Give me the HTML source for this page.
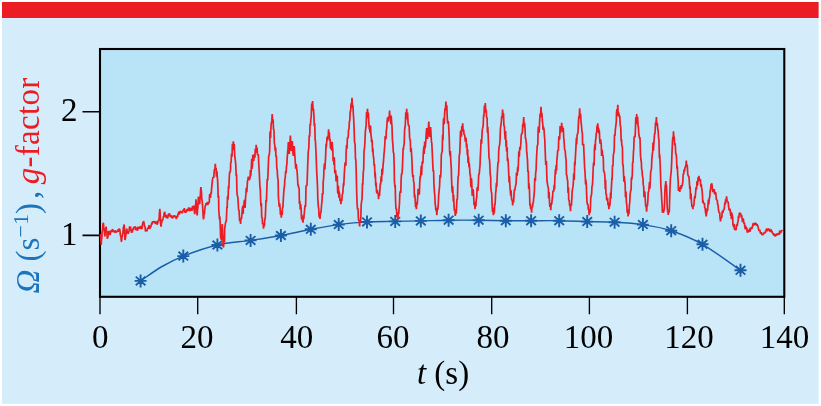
<!DOCTYPE html>
<html lang="en">
<head>
<meta charset="utf-8">
<title>g-factor and angular velocity vs time</title>
<style>
html,body{margin:0;padding:0;background:#fff;}
body{width:821px;height:406px;overflow:hidden;}
svg{display:block;}
text{font-family:"Liberation Serif",serif;font-size:33px;fill:#000;}
.i{font-style:italic;}
</style>
</head>
<body>
<svg width="821" height="406" viewBox="0 0 821 406">
<rect x="2" y="2" width="816.6" height="401.8" fill="#d5edfb"/>
<rect x="2" y="2" width="816.6" height="16" fill="#ec1c24"/>
<rect x="100" y="49" width="684.3" height="247.8" fill="#b9e3f6" stroke="#000" stroke-width="2.1"/>
<path d="M82.5 111.8 H99 M82.5 235.4 H99" stroke="#000" stroke-width="1.6" fill="none"/>
<path d="M100.0 297 V314.2 M197.7 297 V314.2 M296.4 297 V314.2 M393.5 297 V314.2 M491.7 297 V314.2 M589.4 297 V314.2 M687.4 297 V314.2 M784.3 297 V314.2 " stroke="#000" stroke-width="1.35" fill="none"/>
<text x="77.6" y="121" text-anchor="end">2</text>
<text x="77.6" y="244.6" text-anchor="end">1</text>
<text x="100.3" y="348" text-anchor="middle">0</text>
<text x="197.0" y="348" text-anchor="middle">20</text>
<text x="296.7" y="348" text-anchor="middle">40</text>
<text x="393.1" y="348" text-anchor="middle">60</text>
<text x="493.0" y="348" text-anchor="middle">80</text>
<text x="588.5" y="348" text-anchor="middle">100</text>
<text x="689.0" y="348" text-anchor="middle">120</text>
<text x="784.6" y="348" text-anchor="middle">140</text>
<text x="443" y="383.5" text-anchor="middle"><tspan class="i">t</tspan> (s)</text>
<text transform="translate(38.7,293.5) rotate(-90)" style="fill:#1b75bc"><tspan class="i">Ω</tspan> (s<tspan dy="-11" font-size="22">−1</tspan><tspan dy="11">)</tspan><tspan dx="4">,</tspan><tspan style="fill:#ec1c24;letter-spacing:0.3px"> <tspan class="i" dx="-2">g</tspan>-factor</tspan></text>
<path d="M140.6 280.9 C144.2 278.5 154.9 270.6 162.0 266.5 C169.1 262.4 174.1 259.7 183.3 256.1 C192.5 252.5 206.2 247.6 217.4 245.0 C228.6 242.4 240.0 242.0 250.6 240.4 C261.2 238.8 270.9 237.3 280.9 235.5 C290.9 233.7 301.2 231.1 310.8 229.3 C320.4 227.5 329.3 225.8 338.7 224.6 C348.1 223.4 357.6 222.4 367.0 221.9 C376.4 221.4 386.2 221.6 395.2 221.4 C404.2 221.2 411.9 221.1 420.8 220.9 C429.7 220.7 439.0 220.3 448.6 220.2 C458.2 220.1 469.2 220.1 478.7 220.2 C488.2 220.3 497.1 220.6 505.8 220.7 C514.5 220.8 522.2 220.7 531.1 220.7 C540.0 220.7 549.9 220.5 559.2 220.7 C568.6 220.8 578.0 221.3 587.2 221.6 C596.4 221.8 605.3 221.7 614.6 222.2 C623.9 222.7 633.5 223.2 642.9 224.6 C652.3 226.0 661.3 227.4 671.2 230.7 C681.1 234.0 691.0 237.7 702.5 244.3 C714.0 250.9 734.2 266.0 740.5 270.3" fill="none" stroke="#1b5ea8" stroke-width="1.45"/>
<path d="M140.6 274.4 L140.6 287.4 M135.8 276.6 L145.4 285.2 M145.4 276.6 L135.8 285.2 M134.6 280.9 L146.6 280.9 M183.3 249.6 L183.3 262.6 M178.5 251.8 L188.1 260.4 M188.1 251.8 L178.5 260.4 M177.3 256.1 L189.3 256.1 M217.4 238.5 L217.4 251.5 M212.6 240.7 L222.2 249.3 M222.2 240.7 L212.6 249.3 M211.4 245.0 L223.4 245.0 M250.6 233.9 L250.6 246.9 M245.8 236.1 L255.4 244.7 M255.4 236.1 L245.8 244.7 M244.6 240.4 L256.6 240.4 M280.9 229.0 L280.9 242.0 M276.1 231.2 L285.7 239.8 M285.7 231.2 L276.1 239.8 M274.9 235.5 L286.9 235.5 M310.8 222.8 L310.8 235.8 M306.0 225.0 L315.6 233.6 M315.6 225.0 L306.0 233.6 M304.8 229.3 L316.8 229.3 M338.7 218.1 L338.7 231.1 M333.9 220.3 L343.5 228.9 M343.5 220.3 L333.9 228.9 M332.7 224.6 L344.7 224.6 M367.0 215.4 L367.0 228.4 M362.2 217.6 L371.8 226.2 M371.8 217.6 L362.2 226.2 M361.0 221.9 L373.0 221.9 M395.2 214.9 L395.2 227.9 M390.4 217.1 L400.0 225.7 M400.0 217.1 L390.4 225.7 M389.2 221.4 L401.2 221.4 M420.8 214.4 L420.8 227.4 M416.0 216.6 L425.6 225.2 M425.6 216.6 L416.0 225.2 M414.8 220.9 L426.8 220.9 M448.6 213.7 L448.6 226.7 M443.8 215.9 L453.4 224.5 M453.4 215.9 L443.8 224.5 M442.6 220.2 L454.6 220.2 M478.7 213.7 L478.7 226.7 M473.9 215.9 L483.5 224.5 M483.5 215.9 L473.9 224.5 M472.7 220.2 L484.7 220.2 M505.8 214.2 L505.8 227.2 M501.0 216.4 L510.6 225.0 M510.6 216.4 L501.0 225.0 M499.8 220.7 L511.8 220.7 M531.1 214.2 L531.1 227.2 M526.3 216.4 L535.9 225.0 M535.9 216.4 L526.3 225.0 M525.1 220.7 L537.1 220.7 M559.2 214.2 L559.2 227.2 M554.4 216.4 L564.0 225.0 M564.0 216.4 L554.4 225.0 M553.2 220.7 L565.2 220.7 M587.2 215.1 L587.2 228.1 M582.4 217.3 L592.0 225.9 M592.0 217.3 L582.4 225.9 M581.2 221.6 L593.2 221.6 M614.6 215.7 L614.6 228.7 M609.8 217.9 L619.4 226.5 M619.4 217.9 L609.8 226.5 M608.6 222.2 L620.6 222.2 M642.9 218.1 L642.9 231.1 M638.1 220.3 L647.7 228.9 M647.7 220.3 L638.1 228.9 M636.9 224.6 L648.9 224.6 M671.2 224.2 L671.2 237.2 M666.4 226.4 L676.0 235.0 M676.0 226.4 L666.4 235.0 M665.2 230.7 L677.2 230.7 M702.5 237.8 L702.5 250.8 M697.7 240.0 L707.3 248.6 M707.3 240.0 L697.7 248.6 M696.5 244.3 L708.5 244.3 M740.5 263.8 L740.5 276.8 M735.7 266.0 L745.3 274.6 M745.3 266.0 L735.7 274.6 M734.5 270.3 L746.5 270.3 " fill="none" stroke="#1b5ea8" stroke-width="1.9"/>
<path d="M100.4 233.9 L100.8 238.7 L101.2 245.0 L101.5 239.7 L101.8 238.3 L102.1 232.0 L102.5 230.4 L102.8 225.9 L103.1 222.8 L103.5 223.6 L103.8 228.3 L104.2 228.9 L104.5 233.4 L104.9 236.4 L105.2 232.0 L105.5 229.6 L105.8 228.6 L106.1 226.5 L106.4 231.0 L106.7 231.0 L107.0 234.5 L107.3 238.8 L107.6 237.5 L107.9 237.1 L108.2 233.6 L108.5 231.4 L108.9 231.5 L109.2 234.5 L109.6 230.9 L109.9 235.0 L110.3 233.9 L110.6 232.4 L110.9 231.1 L111.3 230.4 L111.6 230.6 L111.9 232.2 L112.2 230.2 L112.6 229.1 L112.9 231.3 L113.3 231.9 L113.6 231.0 L114.0 232.2 L114.4 230.4 L114.7 232.7 L115.1 230.5 L115.4 231.0 L115.8 232.9 L116.1 231.6 L116.5 231.0 L116.8 232.0 L117.2 231.4 L117.5 230.9 L117.9 229.8 L118.2 231.7 L118.6 230.9 L118.9 228.5 L119.3 229.6 L119.6 229.0 L120.0 231.1 L120.3 234.7 L120.6 236.1 L120.9 236.2 L121.3 241.3 L121.6 241.3 L121.9 237.1 L122.3 236.0 L122.6 233.9 L123.0 232.7 L123.3 227.7 L123.7 226.8 L124.1 224.5 L124.4 227.7 L124.7 235.6 L125.0 240.0 L125.4 238.4 L125.8 234.8 L126.2 233.4 L126.5 229.0 L126.9 229.1 L127.2 231.8 L127.6 232.3 L127.9 233.3 L128.3 233.9 L128.6 231.9 L128.9 231.7 L129.2 230.3 L129.5 226.5 L129.8 227.1 L130.2 228.6 L130.5 226.7 L130.9 230.2 L131.2 230.7 L131.6 232.9 L131.9 231.4 L132.3 232.3 L132.6 229.4 L133.0 229.3 L133.4 230.1 L133.7 226.7 L134.1 228.1 L134.4 227.7 L134.8 226.6 L135.1 226.8 L135.5 226.8 L135.8 230.3 L136.2 227.9 L136.5 228.7 L136.9 230.2 L137.2 229.2 L137.6 230.8 L137.9 226.8 L138.3 227.9 L138.6 227.8 L139.0 228.7 L139.3 226.5 L139.7 228.1 L140.0 228.5 L140.4 226.1 L140.7 226.8 L141.1 226.8 L141.4 229.2 L141.8 227.7 L142.1 228.7 L142.5 224.1 L142.8 223.2 L143.1 222.4 L143.4 221.4 L143.8 221.6 L144.1 223.5 L144.5 225.9 L144.8 226.4 L145.1 227.3 L145.5 231.4 L145.8 230.5 L146.2 229.8 L146.5 230.1 L146.9 231.3 L147.3 229.6 L147.6 228.3 L148.0 227.7 L148.3 228.1 L148.7 228.2 L149.0 225.2 L149.4 228.8 L149.7 228.1 L150.1 228.3 L150.4 226.5 L150.8 227.3 L151.1 225.0 L151.5 224.5 L151.8 222.6 L152.2 224.5 L152.5 221.4 L152.9 222.8 L153.2 221.1 L153.6 221.9 L153.9 221.8 L154.3 222.8 L154.6 221.7 L155.0 221.7 L155.3 224.0 L155.7 222.3 L156.0 221.9 L156.4 222.9 L156.8 221.2 L157.1 224.8 L157.5 223.5 L157.8 222.8 L158.1 220.6 L158.4 220.5 L158.7 220.3 L159.0 220.3 L159.4 214.0 L159.8 208.8 L160.1 212.6 L160.4 221.3 L160.8 225.3 L161.1 226.6 L161.4 223.5 L161.7 222.7 L162.1 220.2 L162.4 219.4 L162.7 220.3 L163.1 218.2 L163.4 216.4 L163.8 217.4 L164.1 212.9 L164.5 213.0 L164.8 211.7 L165.1 216.6 L165.4 215.5 L165.8 214.7 L166.1 217.3 L166.4 217.9 L166.8 215.3 L167.1 216.9 L167.5 218.4 L167.8 217.4 L168.2 216.1 L168.5 213.7 L168.9 214.2 L169.2 214.0 L169.6 213.4 L169.9 216.4 L170.3 215.7 L170.7 217.2 L171.0 215.5 L171.4 216.7 L171.7 215.3 L172.1 217.7 L172.4 218.3 L172.8 217.5 L173.1 217.1 L173.5 217.0 L173.8 215.4 L174.2 217.0 L174.5 215.3 L174.9 217.1 L175.2 216.9 L175.6 216.0 L175.9 216.5 L176.3 219.1 L176.6 217.1 L177.0 215.9 L177.3 216.8 L177.7 216.9 L178.0 213.6 L178.4 214.7 L178.7 211.7 L179.1 214.0 L179.4 214.1 L179.8 211.7 L180.2 211.2 L180.5 211.4 L180.9 211.4 L181.2 213.0 L181.6 211.1 L181.9 212.4 L182.3 213.1 L182.6 212.3 L183.0 210.2 L183.3 210.5 L183.7 209.3 L184.0 210.9 L184.4 208.1 L184.7 211.0 L185.1 212.5 L185.4 212.3 L185.8 212.5 L186.1 211.7 L186.5 211.1 L186.8 209.3 L187.2 211.4 L187.5 208.9 L187.9 210.4 L188.2 210.6 L188.6 208.0 L188.9 207.9 L189.3 208.3 L189.7 211.1 L190.0 210.4 L190.4 208.3 L190.7 208.5 L191.1 210.5 L191.4 208.3 L191.8 210.9 L192.1 209.7 L192.5 206.1 L192.8 208.4 L193.2 208.4 L193.5 205.6 L193.8 208.4 L194.1 209.2 L194.4 212.2 L194.8 214.2 L195.1 208.9 L195.4 204.7 L195.7 205.2 L196.0 199.4 L196.3 204.1 L196.6 207.5 L196.9 213.3 L197.2 215.4 L197.5 210.5 L197.8 207.8 L198.1 203.0 L198.4 196.9 L198.8 197.5 L199.1 199.5 L199.4 201.6 L199.7 204.3 L200.0 198.9 L200.3 196.1 L200.6 190.3 L200.9 187.1 L201.2 190.1 L201.5 192.2 L201.8 199.1 L202.1 200.6 L202.5 204.6 L202.8 209.7 L203.1 214.9 L203.4 219.1 L203.7 218.6 L204.0 214.2 L204.4 214.2 L204.7 210.1 L205.0 208.0 L205.3 205.6 L205.7 205.4 L206.0 203.0 L206.4 204.6 L206.7 203.2 L207.1 204.3 L207.4 201.9 L207.8 205.2 L208.1 202.2 L208.4 203.2 L208.8 203.1 L209.3 202.1 L209.6 194.8 L210.0 194.3 L210.4 198.0 L210.9 192.7 L211.2 194.0 L211.7 187.4 L212.1 183.3 L212.5 179.7 L213.0 177.2 L213.4 177.3 L213.7 178.0 L214.2 171.4 L214.5 169.1 L214.9 169.7 L215.3 163.8 L215.7 169.2 L216.1 168.1 L216.4 176.6 L216.9 171.1 L217.2 175.7 L217.7 181.6 L218.2 198.0 L218.6 195.8 L218.8 209.7 L219.5 219.5 L219.9 216.6 L220.2 225.0 L220.7 238.6 L221.0 231.5 L221.4 240.0 L221.8 232.1 L222.2 224.0 L222.7 233.2 L223.2 247.3 L223.6 246.4 L224.1 235.5 L224.5 242.3 L224.7 229.0 L225.3 224.1 L225.5 223.0 L226.1 220.6 L226.3 221.4 L226.9 207.1 L227.2 208.0 L227.5 196.2 L228.0 199.6 L228.5 186.0 L228.8 188.9 L229.3 176.5 L229.7 171.7 L229.9 172.8 L230.5 170.2 L230.7 162.5 L231.1 162.7 L231.5 153.9 L232.0 156.7 L232.4 143.7 L232.9 150.2 L233.3 141.2 L233.8 149.9 L234.2 143.7 L234.7 154.7 L235.0 158.1 L235.3 160.2 L235.7 163.8 L236.2 176.1 L236.6 174.5 L236.9 191.1 L237.3 195.6 L237.8 197.1 L238.1 201.2 L238.6 210.3 L239.0 209.7 L239.3 215.3 L239.7 221.3 L240.2 218.0 L240.6 223.9 L241.0 218.0 L241.5 218.9 L241.9 214.4 L242.2 209.8 L242.8 206.0 L243.2 213.9 L243.5 205.7 L243.9 204.2 L244.3 200.5 L244.8 200.1 L245.1 208.0 L245.7 195.7 L245.9 194.4 L246.3 187.9 L246.8 192.2 L247.2 186.1 L247.5 181.0 L247.9 179.8 L248.3 176.7 L248.7 178.0 L249.2 179.6 L249.6 179.6 L250.1 176.8 L250.4 170.0 L250.7 176.1 L251.2 170.4 L251.7 158.9 L252.0 168.8 L252.5 164.8 L252.8 154.8 L253.3 158.3 L253.7 161.0 L254.1 156.6 L254.4 154.2 L254.9 157.8 L255.3 148.8 L255.8 152.6 L256.2 144.9 L256.6 151.8 L257.1 147.5 L257.5 155.3 L258.0 154.5 L258.4 155.0 L258.8 164.2 L259.2 171.0 L259.4 175.6 L259.9 186.8 L260.3 189.8 L260.6 198.9 L261.0 206.5 L261.4 203.0 L261.7 217.1 L262.2 217.9 L262.6 224.1 L263.1 223.1 L263.5 228.8 L263.9 223.5 L264.4 226.5 L264.8 219.1 L265.2 218.6 L265.5 212.4 L266.0 200.0 L266.4 202.3 L266.7 193.2 L267.2 179.1 L267.7 180.4 L268.0 173.2 L268.4 163.7 L268.7 156.0 L269.2 155.4 L269.7 150.5 L270.0 131.6 L270.6 138.1 L270.8 129.7 L271.3 122.4 L271.7 123.0 L272.2 114.1 L272.6 122.6 L273.1 119.4 L273.5 129.4 L274.0 129.9 L274.3 142.8 L274.8 145.4 L275.2 151.3 L275.7 147.5 L275.9 156.7 L276.4 155.9 L276.8 168.2 L277.2 169.9 L277.7 178.3 L278.1 179.6 L278.4 196.7 L278.9 202.8 L279.2 206.9 L279.7 203.4 L280.1 208.4 L280.5 215.0 L280.9 212.5 L281.3 217.7 L281.7 210.9 L282.1 215.3 L282.5 208.0 L282.9 207.5 L283.3 199.7 L283.6 194.4 L284.2 187.5 L284.6 185.2 L284.8 179.6 L285.2 178.0 L285.7 171.0 L286.1 173.3 L286.5 165.2 L286.8 165.5 L287.1 158.9 L287.6 153.0 L288.0 148.4 L288.4 142.0 L288.9 149.1 L289.3 154.0 L289.6 147.1 L289.9 143.8 L290.4 135.5 L290.8 143.1 L291.3 151.0 L291.9 145.2 L292.3 141.0 L292.7 151.0 L293.3 156.0 L293.7 151.6 L294.2 146.0 L294.7 153.8 L295.2 161.0 L295.7 168.8 L295.9 164.8 L296.3 164.0 L296.7 169.2 L297.1 171.1 L297.6 179.3 L297.9 185.6 L298.3 184.7 L298.7 188.1 L299.1 187.5 L299.4 204.0 L299.9 201.0 L300.2 209.4 L300.6 204.2 L301.1 208.8 L301.5 219.0 L301.9 214.8 L302.2 220.6 L302.6 217.7 L303.0 222.7 L303.4 216.3 L303.8 219.3 L304.1 214.6 L304.4 212.3 L305.0 205.4 L305.4 206.8 L305.7 203.7 L306.0 185.9 L306.6 185.7 L307.0 185.2 L307.4 174.6 L307.7 165.3 L308.2 152.8 L308.6 149.0 L308.8 148.5 L309.2 135.2 L309.7 136.7 L310.0 124.2 L310.5 125.3 L310.8 119.2 L311.2 117.3 L311.7 103.6 L312.1 108.4 L312.6 101.0 L313.1 110.5 L313.5 108.9 L313.9 115.2 L314.3 125.9 L314.7 123.3 L315.2 141.1 L315.4 140.5 L316.0 152.3 L316.3 160.7 L316.8 173.6 L317.0 176.6 L317.5 186.7 L317.8 199.1 L318.4 207.3 L318.7 208.4 L319.1 217.2 L319.6 213.1 L320.0 219.0 L320.4 212.8 L320.9 213.1 L321.3 208.2 L321.8 202.2 L322.0 201.2 L322.4 193.1 L323.0 194.4 L323.2 181.9 L323.7 177.2 L323.9 170.5 L324.4 163.5 L324.9 169.5 L325.3 161.6 L325.5 159.1 L326.1 143.8 L326.2 147.3 L326.7 142.4 L327.1 136.9 L327.5 140.3 L327.9 136.0 L328.2 136.9 L328.6 129.3 L329.0 138.4 L329.3 132.4 L329.7 140.4 L330.1 139.0 L330.4 146.9 L330.8 148.7 L331.4 142.0 L331.7 150.6 L332.1 141.9 L332.6 148.8 L332.8 148.8 L333.1 161.2 L333.7 157.1 L333.9 164.8 L334.3 157.4 L334.8 172.6 L335.3 173.0 L335.6 170.1 L336.1 181.5 L336.5 174.5 L336.8 177.8 L337.3 175.9 L337.6 191.0 L337.9 193.6 L338.4 185.7 L338.9 197.7 L339.1 191.4 L339.6 194.4 L340.0 201.0 L340.5 198.6 L340.9 204.2 L341.3 199.0 L341.8 201.3 L342.2 194.5 L342.7 194.0 L343.0 190.5 L343.4 183.3 L343.7 186.1 L344.3 174.0 L344.5 170.6 L345.0 163.2 L345.5 162.7 L345.9 165.7 L346.1 152.3 L346.6 145.1 L347.0 148.8 L347.4 137.5 L347.9 138.3 L348.3 135.7 L348.5 130.3 L349.0 128.9 L349.4 121.4 L349.8 120.6 L350.2 110.8 L350.6 111.8 L351.1 103.2 L351.5 108.0 L352.0 97.8 L352.4 105.7 L352.9 105.1 L353.3 113.4 L353.7 119.4 L354.2 130.9 L354.5 141.9 L355.1 144.2 L355.5 159.6 L355.8 159.0 L356.2 170.7 L356.7 192.8 L357.0 201.8 L357.5 209.4 L358.0 208.2 L358.3 217.4 L358.7 220.8 L359.2 219.9 L359.6 226.4 L360.0 220.5 L360.5 223.0 L360.9 214.4 L361.2 204.7 L361.7 200.7 L362.0 199.7 L362.5 183.4 L362.8 184.9 L363.3 171.5 L363.7 169.9 L364.0 151.4 L364.5 148.1 L364.8 144.2 L365.4 131.1 L365.7 128.9 L366.1 125.5 L366.6 112.0 L367.0 118.1 L367.5 108.9 L367.9 118.2 L368.4 112.6 L368.8 122.6 L369.4 129.7 L369.6 125.1 L370.0 132.8 L370.6 125.7 L370.9 134.7 L371.4 137.8 L371.6 142.2 L372.1 139.7 L372.6 152.3 L372.9 148.4 L373.3 156.3 L373.6 157.1 L374.2 166.2 L374.5 164.1 L375.0 177.5 L375.2 172.3 L375.8 186.0 L376.0 182.4 L376.5 191.3 L376.9 193.4 L377.3 189.8 L377.7 193.4 L378.2 193.4 L378.6 199.3 L379.0 192.8 L379.5 196.0 L379.9 189.4 L380.3 183.2 L380.7 184.8 L381.1 176.4 L381.6 181.7 L381.9 168.7 L382.2 175.0 L382.6 172.2 L383.1 164.9 L383.5 161.1 L384.0 154.0 L384.4 149.9 L384.7 146.0 L385.2 136.1 L385.5 138.7 L386.0 138.9 L386.3 131.1 L386.7 128.2 L387.2 120.5 L387.6 117.4 L388.0 120.9 L388.4 121.4 L388.8 116.4 L389.2 118.0 L389.6 110.6 L390.0 118.5 L390.4 116.7 L390.8 124.3 L391.2 115.5 L391.5 120.5 L392.0 126.3 L392.4 139.4 L393.0 145.8 L393.3 152.3 L393.8 153.4 L394.2 166.4 L394.4 181.0 L395.0 187.5 L395.2 185.0 L395.6 201.6 L396.0 209.4 L396.5 208.7 L396.9 217.1 L397.4 212.4 L397.8 219.0 L398.2 213.6 L398.7 214.1 L399.1 207.7 L399.4 204.4 L399.8 193.8 L400.4 190.9 L400.8 193.0 L401.1 180.2 L401.5 173.5 L401.8 174.6 L402.2 171.5 L402.7 161.1 L403.1 148.2 L403.4 149.6 L403.7 146.3 L404.2 143.8 L404.6 130.4 L404.9 127.5 L405.3 124.9 L405.8 112.2 L406.2 117.8 L406.7 108.9 L407.1 119.1 L407.6 112.6 L408.0 122.0 L408.5 126.0 L408.7 125.4 L409.1 125.2 L409.6 137.4 L410.1 140.3 L410.3 139.7 L410.7 152.0 L411.2 148.0 L411.6 154.6 L412.0 161.5 L412.3 171.7 L412.8 177.1 L413.3 175.0 L413.5 180.9 L414.0 182.9 L414.4 197.5 L414.7 194.1 L415.1 198.3 L415.6 207.2 L416.0 202.2 L416.4 209.1 L416.8 203.5 L417.2 204.7 L417.7 197.4 L418.1 188.7 L418.4 194.3 L418.9 193.1 L419.3 194.6 L419.8 182.1 L420.1 176.2 L420.4 178.1 L421.0 169.9 L421.3 165.8 L421.6 175.4 L422.2 161.5 L422.6 162.4 L422.9 163.4 L423.3 153.1 L423.9 146.4 L424.2 153.9 L424.7 141.5 L425.0 148.4 L425.4 146.2 L425.8 141.0 L426.2 133.3 L426.7 128.0 L427.0 132.4 L427.5 139.0 L428.0 132.7 L428.4 127.9 L428.8 121.5 L429.2 130.4 L429.7 137.0 L430.1 132.2 L430.6 127.0 L431.1 136.0 L431.5 142.0 L431.8 143.1 L432.4 155.5 L432.7 162.2 L433.1 171.5 L433.6 170.3 L433.9 183.6 L434.4 191.5 L434.8 195.4 L435.2 204.2 L435.5 205.9 L435.9 210.8 L436.4 207.9 L436.8 215.3 L437.2 209.6 L437.7 209.8 L438.1 206.8 L438.6 197.2 L438.8 193.6 L439.4 188.0 L439.6 185.6 L440.0 175.0 L440.6 177.7 L441.0 170.9 L441.3 155.1 L441.8 152.3 L442.2 151.8 L442.6 134.7 L443.0 140.4 L443.3 123.4 L443.6 118.3 L444.2 124.2 L444.5 115.5 L445.0 108.3 L445.4 110.6 L445.9 101.5 L446.3 109.8 L446.8 105.2 L447.2 116.5 L447.6 123.5 L448.0 121.4 L448.4 121.8 L448.9 130.6 L449.2 137.3 L449.6 151.6 L450.1 156.2 L450.4 151.1 L450.9 163.2 L451.3 168.3 L451.5 177.1 L451.9 187.6 L452.3 192.6 L452.7 186.2 L453.3 201.5 L453.6 194.9 L454.0 205.3 L454.4 210.7 L454.9 209.4 L455.3 216.0 L455.7 210.1 L456.2 213.8 L456.6 207.2 L456.9 199.4 L457.4 199.3 L457.8 184.0 L458.2 175.7 L458.6 176.0 L458.9 166.5 L459.3 155.0 L459.7 154.0 L460.0 146.9 L460.5 131.4 L460.9 130.7 L461.4 136.8 L461.8 126.1 L462.3 131.4 L462.7 123.2 L463.1 130.9 L463.6 129.2 L464.0 134.4 L464.5 134.5 L464.9 136.7 L465.3 141.8 L465.6 138.3 L466.1 138.1 L466.5 147.8 L466.9 143.7 L467.3 155.1 L467.7 149.2 L468.0 163.0 L468.4 156.6 L469.0 167.1 L469.2 162.8 L469.6 167.4 L470.0 174.6 L470.4 175.1 L470.9 187.2 L471.4 178.0 L471.7 180.8 L472.2 195.8 L472.5 194.7 L472.9 189.4 L473.2 190.1 L473.7 197.4 L474.1 205.2 L474.6 203.0 L475.0 209.1 L475.4 201.9 L475.9 206.4 L476.3 199.0 L476.7 198.0 L477.1 187.9 L477.6 187.9 L477.9 190.9 L478.4 181.7 L478.7 174.9 L479.2 174.1 L479.6 169.7 L480.0 165.5 L480.3 157.2 L480.8 147.3 L481.1 139.2 L481.6 143.7 L481.9 136.9 L482.3 129.5 L482.7 128.2 L483.2 125.3 L483.6 115.1 L483.9 116.8 L484.4 105.6 L484.8 111.6 L485.3 103.0 L485.8 112.8 L486.2 109.6 L486.6 117.3 L487.1 117.8 L487.4 132.7 L487.8 126.7 L488.3 139.3 L488.6 145.9 L489.0 157.7 L489.5 159.4 L489.8 164.2 L490.2 174.1 L490.7 177.4 L490.8 187.1 L491.3 191.7 L491.7 193.1 L492.1 204.0 L492.5 211.9 L493.0 209.0 L493.4 215.3 L493.8 207.9 L494.3 213.4 L494.7 204.9 L495.1 204.4 L495.6 193.6 L495.9 191.5 L496.4 182.7 L496.8 186.7 L497.2 176.1 L497.7 166.6 L498.0 162.2 L498.5 162.4 L498.7 151.4 L499.1 146.7 L499.6 145.2 L500.0 140.3 L500.4 129.1 L500.8 125.9 L501.2 123.5 L501.7 116.3 L502.1 118.0 L502.6 109.6 L503.1 117.7 L503.5 113.4 L503.9 125.2 L504.4 126.6 L504.7 132.7 L505.2 139.7 L505.6 131.1 L506.0 146.8 L506.4 140.3 L506.6 151.5 L507.2 147.3 L507.4 160.9 L507.8 157.8 L508.3 164.3 L508.6 170.4 L509.1 182.5 L509.5 176.4 L509.9 186.4 L510.3 190.8 L510.7 195.7 L511.1 190.3 L511.4 197.0 L511.8 200.5 L512.3 199.6 L512.7 205.4 L513.1 199.6 L513.6 202.4 L514.0 195.2 L514.3 189.6 L514.7 190.9 L515.1 188.1 L515.6 185.6 L516.1 183.3 L516.5 172.6 L516.8 175.7 L517.3 174.9 L517.6 167.2 L517.9 171.7 L518.4 163.4 L518.8 151.2 L519.3 156.7 L519.7 148.2 L520.0 147.4 L520.3 149.6 L520.8 144.0 L521.2 136.0 L521.5 133.8 L522.0 133.8 L522.4 131.5 L522.8 123.9 L523.2 125.7 L523.7 117.0 L524.1 127.1 L524.6 122.8 L525.1 130.1 L525.4 138.5 L525.8 138.6 L526.4 144.1 L526.7 152.2 L527.0 154.2 L527.5 160.6 L527.9 172.2 L528.3 170.7 L528.7 189.1 L529.0 183.4 L529.4 188.2 L529.9 205.7 L530.3 203.6 L530.7 209.2 L531.2 206.6 L531.6 212.8 L532.0 206.3 L532.5 207.5 L532.9 203.3 L533.3 202.8 L533.6 199.0 L534.1 194.6 L534.4 191.2 L534.8 178.0 L535.4 180.9 L535.6 173.5 L536.1 170.0 L536.4 160.5 L536.9 151.0 L537.3 145.6 L537.8 144.7 L538.1 131.4 L538.4 126.5 L538.9 133.0 L539.2 130.9 L539.6 121.8 L540.1 113.9 L540.5 116.9 L541.0 106.7 L541.4 115.9 L541.9 112.9 L542.4 121.7 L542.7 123.4 L543.1 130.0 L543.4 127.0 L544.0 129.2 L544.4 135.5 L544.8 140.0 L545.0 145.7 L545.5 159.4 L545.8 165.0 L546.4 160.9 L546.8 175.6 L547.0 181.0 L547.6 184.6 L548.0 186.9 L548.4 188.2 L548.6 198.6 L549.1 192.1 L549.5 201.8 L549.9 206.9 L550.4 203.8 L550.8 210.3 L551.2 203.0 L551.7 204.3 L552.1 200.2 L552.5 197.2 L553.0 190.6 L553.3 190.9 L553.7 191.6 L554.2 184.9 L554.6 189.2 L554.8 180.1 L555.4 169.2 L555.8 174.2 L556.1 165.1 L556.6 170.2 L556.8 161.0 L557.4 154.9 L557.7 150.6 L558.2 150.5 L558.4 150.3 L558.8 136.2 L559.3 139.7 L559.7 138.7 L560.1 126.1 L560.5 133.0 L560.9 127.4 L561.3 129.5 L561.7 122.7 L562.1 131.5 L562.5 126.4 L562.9 132.0 L563.3 128.1 L563.7 137.4 L564.1 141.4 L564.6 148.9 L565.0 150.7 L565.2 150.6 L565.8 158.6 L566.1 158.9 L566.4 174.6 L566.9 175.5 L567.2 178.8 L567.7 180.9 L568.0 193.1 L568.5 187.4 L568.7 200.5 L569.2 199.7 L569.6 205.5 L570.1 205.8 L570.5 211.1 L570.9 204.0 L571.4 205.8 L571.8 199.5 L572.1 192.0 L572.7 188.2 L573.0 186.4 L573.4 182.2 L573.7 173.5 L574.2 179.9 L574.7 161.7 L575.0 165.4 L575.4 156.8 L575.8 150.0 L576.4 137.7 L576.7 144.2 L577.1 135.2 L577.5 133.9 L578.0 132.6 L578.4 123.1 L578.8 116.3 L579.2 118.5 L579.7 108.4 L580.1 117.3 L580.6 113.7 L581.1 123.2 L581.3 123.7 L581.9 130.8 L582.4 133.6 L582.6 144.5 L583.0 145.2 L583.6 143.9 L583.9 151.5 L584.4 162.6 L584.7 168.8 L585.0 171.5 L585.6 184.4 L585.8 179.3 L586.3 184.9 L586.8 198.6 L587.0 201.8 L587.5 204.8 L587.9 203.9 L588.3 209.4 L588.8 209.5 L589.2 215.3 L589.6 210.0 L590.1 212.7 L590.5 206.2 L590.8 197.5 L591.2 195.7 L591.6 194.3 L592.0 185.8 L592.3 186.5 L592.7 181.2 L593.3 165.8 L593.7 162.4 L594.1 165.7 L594.4 150.0 L594.9 144.3 L595.2 150.2 L595.5 140.9 L595.9 138.3 L596.3 132.9 L596.7 132.5 L597.0 125.5 L597.4 131.7 L597.8 123.2 L598.2 132.2 L598.6 127.7 L598.9 133.5 L599.3 130.1 L599.7 138.9 L600.1 143.8 L600.6 139.4 L600.9 142.2 L601.2 143.3 L601.6 155.9 L602.1 149.6 L602.6 155.1 L603.0 155.7 L603.3 158.5 L603.6 170.6 L604.0 171.6 L604.4 172.0 L604.9 177.0 L605.3 189.2 L605.6 179.8 L605.9 193.9 L606.4 194.3 L606.7 200.3 L607.2 200.1 L607.6 197.7 L608.0 205.3 L608.5 202.5 L608.9 209.1 L609.3 203.6 L609.8 206.4 L610.2 200.5 L610.6 192.6 L610.9 198.6 L611.3 189.1 L611.9 178.4 L612.1 180.1 L612.5 165.2 L613.0 166.2 L613.3 155.0 L613.8 153.1 L614.2 149.4 L614.5 134.5 L615.0 135.9 L615.3 130.0 L615.8 126.0 L616.3 121.7 L616.5 112.7 L617.0 109.2 L617.4 113.1 L617.8 104.7 L618.2 116.2 L618.6 112.5 L618.9 113.6 L619.5 117.1 L619.8 115.9 L620.3 126.3 L620.7 126.4 L621.2 141.1 L621.5 139.4 L621.9 145.7 L622.4 146.8 L622.7 165.0 L623.1 164.5 L623.4 170.4 L623.9 181.8 L624.2 176.1 L624.8 182.0 L625.1 183.6 L625.5 197.2 L626.0 191.6 L626.4 202.8 L626.8 204.8 L627.2 212.7 L627.7 209.3 L628.1 216.5 L628.5 210.7 L629.0 214.0 L629.4 205.0 L629.8 201.6 L630.1 194.6 L630.5 191.8 L631.1 189.2 L631.4 177.4 L631.7 179.9 L632.3 174.9 L632.6 162.6 L633.0 162.8 L633.5 150.7 L633.7 150.4 L634.1 137.8 L634.7 135.9 L635.1 137.1 L635.4 129.5 L635.8 117.2 L636.2 124.1 L636.7 114.1 L637.1 123.7 L637.6 116.8 L638.1 126.5 L638.4 127.0 L638.8 134.2 L639.2 136.3 L639.7 138.8 L640.0 137.3 L640.5 155.2 L640.9 159.5 L641.4 162.7 L641.6 168.7 L642.0 170.3 L642.4 175.8 L643.0 178.7 L643.2 184.4 L643.7 187.2 L644.0 197.2 L644.5 191.7 L644.9 192.2 L645.3 200.2 L645.7 206.2 L646.2 206.3 L646.6 211.6 L647.0 205.2 L647.5 205.7 L647.9 199.8 L648.2 192.1 L648.7 191.7 L649.0 188.4 L649.5 182.1 L649.9 188.8 L650.3 180.9 L650.7 171.5 L651.1 170.7 L651.5 168.3 L651.8 159.6 L652.3 153.9 L652.7 151.9 L653.0 142.6 L653.4 150.6 L653.9 142.9 L654.4 135.9 L654.7 133.2 L655.0 133.7 L655.5 122.5 L655.9 125.1 L656.4 117.0 L656.8 125.8 L657.3 122.7 L657.8 129.5 L658.1 130.0 L658.6 138.1 L658.9 139.5 L659.4 158.2 L659.7 154.2 L660.2 164.6 L660.6 176.0 L660.9 186.5 L661.4 192.6 L661.7 199.6 L662.2 206.0 L662.4 212.5 L662.9 211.5 L663.2 210.2 L663.5 213.0 L663.8 209.2 L664.1 210.7 L664.6 203.2 L664.8 193.9 L665.2 185.9 L665.5 184.8 L665.8 181.0 L666.1 186.1 L666.4 184.8 L666.8 192.4 L667.1 205.6 L667.6 211.6 L667.9 211.0 L668.2 215.0 L668.5 211.3 L668.8 212.7 L669.3 211.5 L669.6 200.7 L670.0 188.4 L670.4 179.1 L670.7 176.0 L671.2 171.6 L671.7 161.7 L671.9 155.4 L672.5 141.3 L672.8 137.0 L673.1 140.3 L673.5 131.3 L673.9 139.8 L674.2 136.6 L674.7 145.3 L675.1 143.3 L675.4 147.0 L675.7 153.8 L676.2 154.1 L676.6 159.0 L676.9 168.7 L677.3 165.7 L677.7 174.7 L678.2 181.6 L678.4 191.0 L678.9 187.1 L679.2 190.8 L679.5 189.2 L679.8 191.9 L680.1 188.5 L680.4 189.5 L680.7 185.5 L681.3 189.0 L681.5 185.1 L682.1 186.3 L682.5 183.6 L682.8 182.0 L683.2 173.7 L683.7 174.4 L684.0 169.6 L684.5 171.3 L685.0 167.3 L685.2 168.1 L685.7 165.8 L686.0 164.8 L686.3 160.5 L686.6 165.1 L686.9 165.1 L687.3 165.6 L687.8 174.7 L688.1 175.3 L688.6 176.4 L689.0 176.8 L689.5 184.4 L689.8 188.9 L690.1 186.5 L690.5 199.1 L691.0 193.3 L691.5 202.3 L691.9 206.2 L692.3 206.8 L692.6 205.3 L692.9 209.1 L693.2 205.9 L693.5 206.0 L693.9 205.5 L694.3 199.1 L694.8 196.1 L695.1 198.3 L695.5 194.2 L696.0 187.4 L696.5 189.8 L696.8 185.5 L697.0 181.1 L697.6 185.5 L698.1 177.4 L698.4 177.6 L698.7 179.8 L699.0 175.8 L699.3 181.1 L699.6 178.7 L700.1 180.2 L700.4 179.2 L700.8 186.7 L701.3 184.2 L701.7 188.8 L701.9 188.6 L702.3 192.8 L702.8 202.9 L703.1 200.8 L703.6 203.1 L703.9 204.1 L704.5 203.1 L704.7 207.9 L705.1 207.8 L705.6 213.0 L705.9 213.3 L706.2 216.5 L706.5 212.9 L706.8 212.6 L707.1 208.3 L707.6 210.6 L708.1 203.0 L708.4 199.6 L708.8 204.4 L709.4 197.4 L709.6 198.1 L710.2 190.6 L710.7 188.2 L711.1 184.0 L711.3 185.0 L711.8 183.3 L712.1 185.7 L712.5 190.2 L713.0 192.0 L713.5 191.5 L713.8 189.9 L714.3 189.4 L714.6 194.4 L715.1 192.5 L715.6 192.0 L716.0 195.2 L716.3 199.3 L716.7 199.9 L717.3 200.3 L717.6 204.2 L718.0 204.5 L718.4 209.3 L718.7 210.7 L719.1 212.8 L719.7 212.5 L720.0 217.6 L720.5 221.4 L721.0 218.1 L721.4 217.6 L721.8 217.6 L722.1 212.7 L722.6 210.7 L722.9 212.9 L723.4 209.9 L723.7 210.0 L724.1 209.3 L724.5 206.4 L725.0 202.0 L725.4 204.4 L725.6 199.2 L726.1 201.0 L726.6 196.3 L727.1 201.3 L727.4 201.8 L727.8 201.8 L728.2 201.8 L728.6 206.7 L729.1 210.0 L729.4 210.1 L729.9 208.7 L730.1 209.4 L730.7 215.8 L730.9 211.9 L731.4 219.2 L731.7 212.7 L732.2 214.9 L732.7 217.5 L732.9 224.4 L733.3 225.3 L733.8 227.2 L734.0 223.8 L734.5 229.5 L735.0 229.5 L735.4 229.5 L735.7 230.0 L736.1 229.5 L736.5 224.6 L736.9 225.1 L737.2 226.1 L737.6 223.0 L738.2 220.5 L738.5 215.9 L738.9 218.3 L739.2 214.3 L739.7 212.8 L740.1 213.3 L740.4 213.6 L740.8 213.7 L741.3 217.3 L741.6 215.1 L742.1 218.1 L742.4 222.1 L743.0 218.9 L743.3 219.0 L743.7 221.5 L744.1 224.2 L744.5 222.8 L744.8 226.9 L745.3 229.2 L745.6 225.7 L745.9 228.4 L746.4 227.3 L746.9 229.0 L747.1 231.5 L747.6 232.5 L748.0 231.5 L748.3 231.2 L748.7 229.6 L749.3 232.0 L749.7 228.7 L750.1 231.7 L750.5 227.6 L750.8 228.3 L751.2 228.1 L751.7 229.0 L752.2 227.2 L752.5 226.6 L752.9 224.4 L753.4 223.2 L753.7 225.7 L754.2 223.2 L754.7 224.8 L755.1 223.2 L755.4 222.7 L755.9 224.6 L756.1 223.2 L756.6 225.8 L757.0 224.5 L757.5 225.3 L757.7 225.5 L758.3 227.8 L758.7 229.8 L759.2 231.0 L759.5 230.2 L759.8 229.6 L760.2 232.2 L760.6 233.4 L761.2 233.1 L761.4 232.2 L761.8 234.3 L762.3 235.0 L762.6 234.5 L763.2 234.5 L763.4 234.5 L763.9 232.7 L764.2 233.2 L764.6 232.0 L765.1 232.8 L765.3 233.3 L765.8 230.3 L766.1 230.9 L766.5 228.9 L766.9 229.0 L767.4 231.2 L767.8 230.4 L768.1 230.4 L768.5 228.3 L768.8 229.9 L769.3 229.7 L769.7 228.8 L770.0 231.6 L770.4 230.9 L770.9 230.2 L771.1 229.5 L771.6 232.7 L772.0 230.9 L772.4 232.6 L772.8 233.3 L773.1 234.4 L773.5 233.1 L773.9 235.7 L774.4 234.0 L774.6 234.9 L775.1 236.2 L775.5 235.7 L775.9 235.7 L776.4 234.3 L776.7 233.5 L777.1 235.1 L777.5 234.0 L778.1 233.7 L778.4 233.7 L778.7 234.1 L779.3 234.6 L779.7 230.7 L780.0 231.4 L780.5 233.3 L780.8 232.2 L781.2 231.9 L781.6 230.5 L782.1 230.5 L782.5 230.0" fill="none" stroke="#ec1c24" stroke-width="1.7" stroke-linejoin="bevel"/>
</svg>
</body>
</html>
